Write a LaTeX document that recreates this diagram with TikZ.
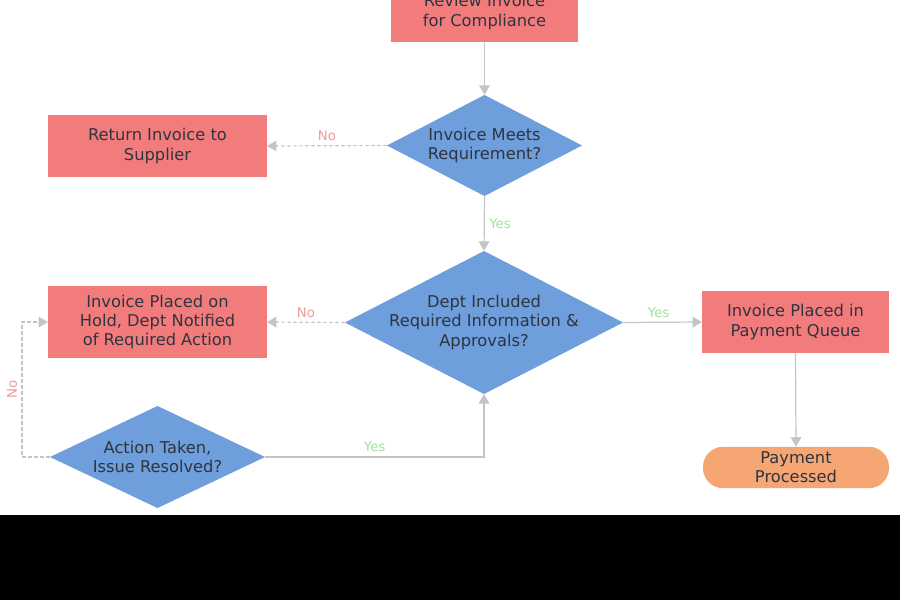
\documentclass[tikz,border=0pt]{standalone}
\usepackage{fontspec}
\setmainfont{DejaVu Sans}
\usetikzlibrary{shapes.geometric,arrows.meta}
\definecolor{boxred}{HTML}{F27C7C}
\definecolor{dblue}{HTML}{6E9EDB}
\definecolor{pill}{HTML}{F5A673}
\definecolor{txt}{HTML}{2E3440}
\definecolor{lin}{HTML}{C4C4C4}
\definecolor{nored}{HTML}{F29A9A}
\definecolor{yesgreen}{HTML}{9EE39E}
\begin{document}
\begin{tikzpicture}[x=0.75pt,y=-0.75pt,
  every node/.style={font=\fontsize{12.2}{14.5}\selectfont,text=txt,align=center},
  rbox/.style={fill=boxred,draw=none,inner sep=0pt},
  dia/.style={draw=none,inner sep=0pt,append after command={
     \pgfextra{\fill[dblue] (\tikzlastnode.north) -- (\tikzlastnode.east) -- (\tikzlastnode.south) -- (\tikzlastnode.west) -- cycle;}}},
  conn/.style={draw=lin,line width=0.9pt,-{Triangle[length=7pt,width=8pt,fill=lin]}},
  dconn/.style={conn,dash pattern=on 2.5pt off 2pt},
  nol/.style={text=nored,font=\fontsize{10}{12}\selectfont},
  yesl/.style={text=yesgreen,font=\fontsize{10}{12}\selectfont}]
\useasboundingbox (0,0) rectangle (900,600);
\fill[white] (0,0) rectangle (900,515);
\fill[black] (0,515) rectangle (900,600);
\begin{scope}
\clip (0,0) rectangle (900,515);
\node[rbox,minimum width=140.25pt,minimum height=45pt] (rev) at (484.5,12) {Review Invoice\\for Compliance};
\end{scope}
% diamonds: background shapes first
\fill[dblue] (387,145.5) -- (484.5,95) -- (582,145.5) -- (484.5,196) -- cycle;
\fill[dblue] (345,322.5) -- (484,251) -- (623,322.5) -- (484,394) -- cycle;
\fill[dblue] (50,457) -- (157.5,406) -- (265,457) -- (157.5,508) -- cycle;
\node[inner sep=0pt,minimum width=146.25pt,minimum height=75.75pt] (d1) at (484.5,145.5) {Invoice Meets\\Requirement?};
\node[inner sep=0pt,minimum width=208.5pt,minimum height=107.25pt] (d2) at (484,322.5) {Dept Included\\Required Information \&\\Approvals?};
\node[inner sep=0pt,minimum width=161.25pt,minimum height=76.5pt] (d3) at (157.5,457) {Action Taken,\\Issue Resolved?};
\node[rbox,minimum width=164pt,minimum height=46.5pt] (ret) at (157.5,146) {Return Invoice to\\Supplier};
\node[rbox,minimum width=164pt,minimum height=54pt] (hold) at (157.5,322) {Invoice Placed on\\Hold, Dept Notified\\of Required Action};
\node[rbox,minimum width=140pt,minimum height=46.5pt] (que) at (795.5,322) {Invoice Placed in\\Payment Queue};
\node[fill=pill,rounded corners=15pt,minimum width=139.5pt,minimum height=31pt,inner sep=0pt] (pay) at (796,467.5) {Payment\\Processed};
\coordinate (c1) at (22,457);
\coordinate (c2) at (22,322);
\coordinate (c3) at (484,457);
\coordinate (r1) at (484.5,42);

\draw[conn] (r1) -- (d1.north);
\draw[dconn] (d1.west) -- (ret.east) node[nol,pos=0.5,above] {No};
\draw[conn] (d1.south) -- (d2.north) node[yesl,pos=0.5,right] {Yes};
\draw[dconn] (d2.west) -- (hold.east) node[nol,pos=0.5,above] {No};
\draw[conn] (d2.east) -- (que.west) node[yesl,pos=0.45,above] {Yes};
\draw[conn] (que.south) -- (pay.north);
\draw[conn] (d3.east) -- (c3) node[yesl,pos=0.5,above] {Yes} -- (d2.south);
\draw[dconn] (d3.west) -- (c1) -- (c2) node[nol,pos=0.5,left,rotate=90,anchor=south] {No} -- (hold.west);
\end{tikzpicture}
\end{document}
